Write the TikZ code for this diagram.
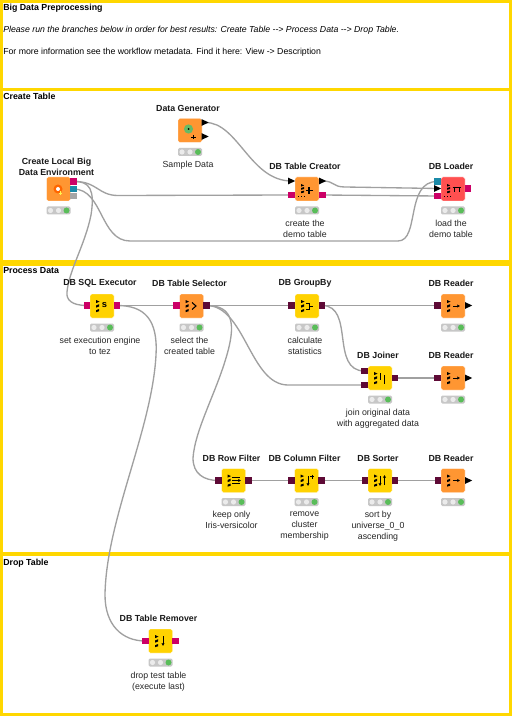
\documentclass[tikz,border=0pt]{standalone}
\usepackage{fontspec}
\usetikzlibrary{arrows.meta}
\setmainfont{Liberation Sans}
\pgfdeclarelayer{bg}
\pgfsetlayers{bg,main}
\definecolor{kyellow}{HTML}{FFD200}
\definecolor{korange}{HTML}{FF9632}
\definecolor{kred}{HTML}{FF5050}
\definecolor{kpink}{HTML}{CC0066}
\definecolor{kmaroon}{HTML}{5E0A36}
\definecolor{kblue}{HTML}{1B8AA8}
\definecolor{kgrey}{HTML}{A6A6A6}
\definecolor{kwire}{HTML}{A0A0A0}
\definecolor{kframe}{HTML}{FFD700}
\tikzset{
  frame/.style={draw=kframe,line width=2.25pt},
  body/.style={minimum size=18pt,inner sep=0pt,rounded corners=1.2pt,draw=white,line width=.3pt,opacity=1},
  port/.style={minimum size=5.2pt,inner sep=0pt},
  tport/.style={minimum size=5.2pt,inner sep=0pt},
  lightbar/.style={minimum width=18pt,minimum height=6pt,inner sep=0pt,fill=black!22,rounded corners=1pt},
  title/.style={font=\bfseries\fontsize{6.6}{8.25}\selectfont,align=center,inner sep=0pt,text=black!90},
  caption/.style={font=\fontsize{6.6}{8.25}\selectfont,align=center,inner sep=0pt,text=black!85},
  head/.style={font=\bfseries\fontsize{6.6}{8.25}\selectfont,inner sep=0pt,anchor=west},
  note/.style={font=\fontsize{6.55}{8.25}\selectfont,inner sep=0pt,anchor=west},
  wire/.style={draw=kwire,line width=1pt},
  glyph/.style={black,line width=.7pt},
  glypharrow/.style={black,line width=.7pt,-{Latex[length=2pt,width=2.5pt]}},
}
% id, x, y, colour, title, caption
\newcommand{\KN}[6]{%
  \node[body,fill=#4] (#1) at (#2,#3) {};
  \node[lightbar] (#1-b) at (#2,#3+21.5) {};
  \fill[black!8] (#2-8,#3+21.5) circle[radius=2.6];
  \fill[black!8] (#2,#3+21.5) circle[radius=2.6];
  \fill[green!60!black!65!white] (#2+8,#3+21.5) circle[radius=3];
  \node[title] (#1-t) at (#2-2,#3-22.5) {#5};
  \node[caption,anchor=north] (#1-c) at (#2-2,#3+30.5) {#6};
}
\newcommand{\KP}[4]{\node[port,fill=#4] (#1) at (#2,#3) {};}
\newcommand{\KT}[3]{\node[tport] (#1) at (#2,#3) {};
  \fill[black] (#2-3.4,#3-3.4) -- (#2+3.6,#3) -- (#2-3.4,#3+3.4) -- cycle;}
\newcommand{\DBM}[2]{%
  \fill[black] (#1-6,#2-6) -- (#1-2.5,#2-4.4) -- (#1-6,#2-2.8) -- cycle;
  \fill[black] (#1-6,#2-.5) -- (#1-2.8,#2-1.8) -- (#1-2.8,#2+.5) -- (#1-6,#2+1.6) -- cycle;
  \fill[black] (#1-6,#2+4.2) -- (#1-2.8,#2+3) -- (#1-2.8,#2+5.2) -- (#1-6,#2+6.2) -- cycle;}
% compact mark with the three dots underneath
\newcommand{\DBC}[2]{%
  \fill[black] (#1-6,#2-5) -- (#1-2.8,#2-3.6) -- (#1-6,#2-2.4) -- cycle;
  \fill[black] (#1-6,#2-1) -- (#1-2.8,#2-2) -- (#1-2.8,#2) -- (#1-6,#2+.8) -- cycle;
  \fill[black] (#1-6,#2+2.4) -- (#1-2.8,#2+1.6) -- (#1-2.8,#2+3.4) -- (#1-6,#2+4.2) -- cycle;
  \fill[black] (#1-9.5,#2+7) rectangle +(1.4,1.2);
  \fill[black] (#1-6.5,#2+7) rectangle +(1.4,1.2);
  \fill[black] (#1-3.5,#2+7) rectangle +(1.4,1.2);}
\begin{document}
\begin{tikzpicture}[x=.75pt,y=-.75pt]
\useasboundingbox (0,0) rectangle (512,716);
\begin{pgfonlayer}{bg}
\fill[white] (0,0) rectangle (512,716);
\draw[frame] (1.5,1.5) rectangle (510.5,89.5);
\draw[frame] (1.5,89.5) rectangle (510.5,261.5);
\draw[frame] (1.5,264.5) rectangle (510.5,553.5);
\draw[frame] (1.5,554.5) rectangle (510.5,714.5);
\end{pgfonlayer}
\node[head] (h1) at (3,8) {Big Data Preprocessing};
\node[note] (n1) at (3,30) {\itshape Please run the branches below in order for best results: Create Table {-}{-}> Process Data {-}{-}> Drop Table.};
\node[note] (n2) at (3,52) {For more information see the workflow metadata. Find it here: View -> Description};
\node[head] (h2) at (3,96) {Create Table};
\node[head] (h3) at (3,271) {Process Data};
\node[head] (h4) at (3,563) {Drop Table};

\KN{gen}{190}{130.5}{korange}{Data Generator}{Sample Data}
\KN{env}{58.5}{189}{korange}{Create Local Big\\Data Environment}{}
\KN{cre}{307}{189}{korange}{DB Table Creator}{create the\\demo table}
\KN{loa}{453}{189}{kred}{DB Loader}{load the\\demo table}
\KN{sql}{102}{306}{kyellow}{DB SQL Executor}{set execution engine\\to tez}
\KN{sel}{191.5}{306}{korange}{DB Table Selector}{select the\\created table}
\KN{grp}{307}{306}{kyellow}{DB GroupBy}{calculate\\statistics}
\KN{rd1}{453}{306}{korange}{DB Reader}{}
\KN{joi}{380}{378}{kyellow}{DB Joiner}{join original data\\with aggregated data}
\KN{rd2}{453}{378}{korange}{DB Reader}{}
\KN{row}{233.5}{480.5}{kyellow}{DB Row Filter}{keep only\\Iris-versicolor}
\KN{col}{306.5}{480.5}{kyellow}{DB Column Filter}{remove\\cluster\\membership}
\KN{srt}{380}{480.5}{kyellow}{DB Sorter}{sort by\\universe\_0\_0\\ascending}
\KN{rd3}{453}{480.5}{korange}{DB Reader}{}
\KN{rem}{160.5}{641}{kyellow}{DB Table Remover}{drop test table\\(execute last)}

% ports
\KT{gen-o1}{205}{122.5}
\KT{gen-o2}{205}{136.5}
\KP{env-o1}{73.5}{181.5}{kpink}
\KP{env-o2}{73.5}{189}{kblue}
\KP{env-o3}{73.5}{196}{kgrey}
\KT{cre-i1}{291.5}{181}
\KP{cre-i2}{291.5}{195}{kpink}
\KT{cre-o1}{322.5}{181}
\KP{cre-o2}{322.5}{195}{kpink}
\KP{loa-i1}{437.5}{181.5}{kblue}
\KT{loa-i2}{437.5}{188.5}
\KP{loa-i3}{437.5}{196}{kpink}
\KP{loa-o1}{468}{188.5}{kpink}
\KP{sql-i}{87}{305.5}{kpink}
\KP{sql-o}{117}{305.5}{kpink}
\KP{sel-i}{176.5}{305.5}{kpink}
\KP{sel-o}{206.5}{305.5}{kmaroon}
\KP{grp-i}{291.5}{305.5}{kmaroon}
\KP{grp-o}{322}{305.5}{kmaroon}
\KP{rd1-i}{437.5}{305.5}{kmaroon}
\KT{rd1-o}{468.5}{305.5}
\KP{joi-i1}{364.5}{371}{kmaroon}
\KP{joi-i2}{364.5}{385}{kmaroon}
\KP{joi-o}{395}{378}{kmaroon}
\KP{rd2-i}{437.5}{378}{kmaroon}
\KT{rd2-o}{468.5}{378}
\KP{row-i}{218.5}{480.5}{kmaroon}
\KP{row-o}{248.5}{480.5}{kmaroon}
\KP{col-i}{291.5}{480.5}{kmaroon}
\KP{col-o}{321.5}{480.5}{kmaroon}
\KP{srt-i}{365}{480.5}{kmaroon}
\KP{srt-o}{395}{480.5}{kmaroon}
\KP{rd3-i}{438}{480.5}{kmaroon}
\KT{rd3-o}{468.5}{480.5}
\KP{rem-i}{145.5}{641}{kpink}
\KP{rem-o}{175.5}{641}{kpink}

% connectors
\begin{pgfonlayer}{bg}
\draw[wire] (gen-o1.center) .. controls (238,122) and (250,181) .. (cre-i1.center);
\draw[wire] (env-o1.center) .. controls (97,181) and (98,195.5) .. (118,195.5) -- (cre-i2.center);
\draw[wire] (env-o2.center) .. controls (103,189) and (100,241) .. (130,241) -- (398,241) .. controls (420,241) and (405,181) .. (loa-i1.center);
\draw[wire] (env-o1.center) .. controls (90,181) and (95,190) .. (91,215) .. controls (85,245) and (69,270) .. (67,292) .. controls (66,300) and (72,305.5) .. (sql-i.center);
\draw[wire] (cre-o1.center) .. controls (335,181) and (332,187) .. (345,187) -- (loa-i2.center);
\draw[wire] (cre-o2.center) -- (loa-i3.center);
\draw[wire] (sql-o.center) -- (sel-i.center);
\draw[wire] (sql-o.center) .. controls (145,305.5) and (158,320) .. (156,355) .. controls (152,430) and (106,520) .. (105,595) .. controls (105,625) and (122,641) .. (rem-i.center);
\draw[wire] (sel-o.center) -- (grp-i.center);
\draw[wire] (sel-o.center) .. controls (234,305.5) and (236,325) .. (226,358) .. controls (215,395) and (195,430) .. (193,458) .. controls (193,474) and (204,480.5) .. (row-i.center);
\draw[wire] (sel-o.center) .. controls (245,305.5) and (250,385) .. (288,385) -- (joi-i2.center);
\draw[wire] (grp-o.center) -- (rd1-i.center);
\draw[wire] (grp-o.center) .. controls (355,305.5) and (330,371) .. (joi-i1.center);
\draw[wire] (joi-o.center) -- (rd2-i.center);
\draw[wire] (row-o.center) -- (col-i.center);
\draw[wire] (col-o.center) -- (srt-i.center);
\draw[wire] (srt-o.center) -- (rd3-i.center);
\end{pgfonlayer}

% icons
\fill[green!55!black!60!white] (188.5,129) circle[radius=4.6];
\fill[black] (188.5,129) circle[radius=1];
\draw[black,line width=.8pt] (193.5,135) -- (193.5,139.5) (191.2,137.2) -- (195.8,137.2);
\fill[orange!80!red] (58,189) circle[radius=4.5];
\fill[white] (58,189) circle[radius=2];
\draw[yellow!70!white,line width=.7pt] (60.5,191.5) -- (60.5,195) (58.7,193.2) -- (62.3,193.2);
\DBC{307}{189}
\draw[black,line width=.9pt] (309,187.5) -- (309,194) (305.5,190.8) -- (312.5,190.8);
\DBC{453}{189}
\draw[glyph] (452.5,187) -- (456.5,187) (454.5,187) -- (454.5,192) (457,187) -- (461,187) (459,187) -- (459,192);
\DBM{102}{306}
\node[inner sep=0pt,font=\bfseries\fontsize{7}{7}\selectfont] (sql-s) at (104.5,305) {s};
\DBM{191.5}{306}
\draw[black,line width=.8pt] (192,302.5) -- (196,306) -- (192,309.5);
\DBM{307}{306}
\draw[black,line width=.6pt] (306,303) -- (309,303) -- (309,309) -- (306,309) (309,306) -- (313,306);
\DBM{453}{306}
\draw[glypharrow] (453,306) -- (460,306);
\DBM{380}{378}
\draw[black,line width=.6pt] (380,373) -- (380,380) (384,375) -- (384,384);
\DBM{453}{378}
\draw[glypharrow] (453,378) -- (460,378);
\DBM{233.5}{480.5}
\draw[glyph] (232,477.5) -- (240,477.5) (232,483.5) -- (240,483.5);
\draw[glypharrow] (232,480.5) -- (241,480.5);
\DBM{306.5}{480.5}
\draw[glypharrow] (308,476) -- (308,486);
\draw[glyph] (312,474.5) -- (312,479) (310,476.8) -- (314,476.8);
\DBM{380}{480.5}
\draw[glypharrow] (380,476) -- (380,486);
\draw[glypharrow] (384.5,485) -- (384.5,475);
\DBM{453}{480.5}
\draw[glypharrow] (453,480.5) -- (460,480.5);
\DBM{161}{641}
\draw[glypharrow] (163,636) -- (163,646);
\end{tikzpicture}
\end{document}
